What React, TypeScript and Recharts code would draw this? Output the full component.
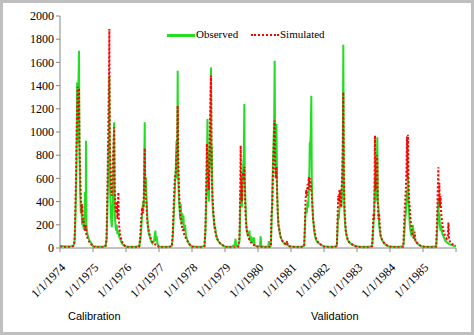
import React from 'react';
import { LineChart, Line, XAxis, YAxis } from 'recharts';

// one row per year, times are fractions of the year
const years = [1974, 1975, 1976, 1977, 1978, 1979, 1980, 1981, 1982, 1983, 1984, 1985];

const sampleTimes = [
  [0, 0.1, 0.2, 0.3, 0.4, 0.44, 0.46, 0.48, 0.5, 0.52, 0.535, 0.55, 0.576, 0.59, 0.61, 0.63, 0.65, 0.67, 0.69, 0.71, 0.73, 0.76, 0.78, 0.788, 0.8, 0.83, 0.86, 0.9, 0.95],
  [0, 0.1, 0.2, 0.3, 0.38, 0.41, 0.43, 0.45, 0.47, 0.485, 0.495, 0.51, 0.53, 0.55, 0.57, 0.59, 0.61, 0.64, 0.66, 0.68, 0.7, 0.72, 0.74, 0.77, 0.79, 0.82, 0.86, 0.9, 0.95],
  [0, 0.1, 0.2, 0.3, 0.4, 0.43, 0.46, 0.49, 0.52, 0.54, 0.567, 0.58, 0.6, 0.62, 0.64, 0.66, 0.69, 0.72, 0.76, 0.8, 0.85, 0.89, 0.91, 0.93, 0.96],
  [0, 0.1, 0.2, 0.3, 0.39, 0.42, 0.45, 0.48, 0.51, 0.53, 0.55, 0.566, 0.58, 0.6, 0.62, 0.64, 0.66, 0.68, 0.7, 0.72, 0.74, 0.76, 0.79, 0.82, 0.86, 0.9, 0.95],
  [0, 0.1, 0.2, 0.3, 0.38, 0.41, 0.43, 0.45, 0.47, 0.49, 0.51, 0.53, 0.55, 0.576, 0.59, 0.6, 0.62, 0.64, 0.66, 0.68, 0.7, 0.73, 0.76, 0.8, 0.85, 0.9, 0.95],
  [0, 0.1, 0.2, 0.3, 0.32, 0.34, 0.4, 0.44, 0.46, 0.475, 0.49, 0.51, 0.53, 0.55, 0.57, 0.586, 0.6, 0.62, 0.64, 0.66, 0.7, 0.74, 0.76, 0.8, 0.83, 0.88, 0.9, 0.95],
  [0, 0.06, 0.08, 0.1, 0.2, 0.31, 0.33, 0.35, 0.39, 0.41, 0.43, 0.45, 0.47, 0.49, 0.505, 0.52, 0.54, 0.56, 0.58, 0.6, 0.62, 0.65, 0.68, 0.72, 0.76, 0.8, 0.86, 0.88, 0.9, 0.95],
  [0, 0.1, 0.2, 0.3, 0.4, 0.42, 0.44, 0.46, 0.48, 0.5, 0.52, 0.54, 0.56, 0.57, 0.58, 0.6, 0.616, 0.63, 0.65, 0.67, 0.7, 0.73, 0.76, 0.8, 0.85, 0.9, 0.95],
  [0, 0.1, 0.2, 0.3, 0.39, 0.41, 0.43, 0.45, 0.47, 0.49, 0.51, 0.53, 0.55, 0.57, 0.585, 0.6, 0.62, 0.64, 0.66, 0.69, 0.72, 0.76, 0.8, 0.86, 0.92, 0.96],
  [0, 0.1, 0.2, 0.3, 0.4, 0.46, 0.48, 0.5, 0.52, 0.545, 0.56, 0.58, 0.6, 0.616, 0.63, 0.65, 0.67, 0.69, 0.72, 0.76, 0.8, 0.86, 0.92, 0.96],
  [0, 0.1, 0.2, 0.3, 0.4, 0.42, 0.44, 0.46, 0.48, 0.5, 0.515, 0.53, 0.545, 0.56, 0.58, 0.6, 0.62, 0.64, 0.66, 0.69, 0.71, 0.73, 0.75, 0.77, 0.8, 0.86, 0.92, 0.96],
  [0, 0.1, 0.2, 0.3, 0.4, 0.42, 0.44, 0.465, 0.48, 0.495, 0.51, 0.53, 0.55, 0.57, 0.59, 0.62, 0.65, 0.68, 0.72, 0.75, 0.77, 0.79, 0.83, 0.88, 0.93, 0.99],
];

const observed = [
  [18, 15, 12, 12, 20, 40, 180, 420, 700, 1428, 900, 1250, 1701, 800, 500, 300, 350, 200, 250, 180, 160, 483, 300, 925, 200, 120, 90, 60, 40],
  [15, 12, 10, 10, 20, 60, 250, 500, 900, 700, 1480, 600, 400, 250, 180, 300, 500, 1083, 300, 200, 150, 200, 120, 150, 100, 80, 50, 30, 20],
  [12, 10, 10, 10, 15, 60, 150, 300, 400, 350, 1083, 500, 610, 450, 300, 200, 120, 100, 60, 40, 60, 150, 60, 100, 30],
  [12, 10, 10, 10, 20, 100, 300, 500, 700, 925, 600, 1529, 700, 450, 350, 250, 380, 200, 300, 250, 280, 150, 200, 100, 70, 40, 20],
  [15, 12, 10, 10, 20, 150, 400, 700, 1112, 500, 400, 700, 900, 1557, 700, 882, 400, 300, 250, 180, 180, 120, 80, 60, 40, 30, 20],
  [12, 10, 10, 30, 80, 15, 15, 60, 300, 500, 400, 350, 500, 700, 800, 1241, 600, 400, 250, 150, 100, 150, 60, 100, 40, 90, 25, 15],
  [15, 15, 100, 15, 10, 10, 60, 10, 20, 200, 400, 700, 900, 1100, 1615, 800, 600, 1069, 500, 300, 200, 150, 100, 70, 50, 40, 30, 30, 25, 15],
  [12, 10, 10, 10, 20, 150, 300, 350, 300, 400, 350, 500, 700, 911, 850, 1000, 1313, 600, 350, 250, 150, 100, 70, 50, 40, 30, 20],
  [15, 12, 10, 10, 20, 150, 300, 250, 350, 500, 400, 350, 500, 800, 1753, 600, 300, 200, 150, 100, 70, 50, 40, 30, 20, 15],
  [12, 10, 10, 10, 10, 20, 100, 200, 300, 600, 400, 500, 700, 954, 400, 350, 200, 150, 100, 70, 50, 30, 20, 15],
  [12, 10, 10, 10, 15, 50, 150, 250, 300, 400, 500, 450, 620, 400, 300, 200, 150, 120, 100, 200, 150, 100, 80, 60, 50, 30, 20, 15],
  [12, 10, 10, 10, 15, 100, 200, 430, 250, 300, 200, 150, 200, 150, 120, 100, 80, 60, 50, 40, 40, 35, 30, 25, 20, 15],
];

const simulated = [
  [12, 10, 8, 8, 15, 60, 250, 550, 900, 1200, 1390, 1100, 1380, 900, 700, 450, 300, 380, 220, 260, 180, 150, 200, 130, 120, 90, 70, 45, 30],
  [10, 8, 7, 8, 15, 80, 400, 800, 1200, 1500, 1888, 900, 700, 500, 450, 600, 800, 1040, 500, 350, 300, 400, 250, 480, 200, 120, 70, 45, 25],
  [8, 7, 6, 6, 12, 80, 250, 350, 300, 450, 860, 600, 420, 380, 250, 200, 150, 110, 70, 50, 35, 30, 30, 25, 20],
  [8, 7, 6, 7, 15, 150, 400, 600, 650, 800, 900, 1227, 800, 550, 400, 300, 250, 220, 180, 150, 170, 120, 100, 80, 60, 40, 25],
  [10, 8, 7, 7, 15, 200, 500, 900, 700, 600, 500, 800, 1100, 1486, 900, 600, 450, 350, 250, 200, 150, 110, 80, 60, 40, 30, 20],
  [8, 7, 6, 6, 8, 8, 10, 100, 500, 882, 550, 400, 600, 650, 600, 700, 500, 300, 200, 150, 100, 70, 60, 45, 35, 25, 20, 15],
  [10, 8, 8, 8, 7, 7, 8, 8, 15, 300, 350, 600, 800, 1000, 1100, 700, 600, 700, 450, 300, 200, 150, 100, 70, 50, 40, 30, 60, 20, 15],
  [10, 8, 7, 7, 15, 200, 400, 500, 450, 550, 500, 612, 550, 500, 600, 550, 500, 450, 350, 250, 180, 120, 80, 60, 40, 30, 20],
  [10, 8, 7, 7, 15, 250, 450, 400, 500, 450, 350, 500, 600, 900, 1342, 700, 350, 250, 150, 100, 70, 50, 40, 30, 20, 15],
  [10, 8, 7, 7, 7, 15, 150, 300, 250, 968, 500, 700, 800, 750, 400, 250, 300, 200, 100, 70, 50, 30, 20, 15],
  [10, 8, 7, 7, 10, 150, 300, 400, 500, 700, 960, 600, 977, 600, 400, 350, 250, 200, 150, 100, 90, 80, 140, 60, 50, 30, 20, 15],
  [10, 8, 7, 7, 10, 200, 400, 695, 400, 560, 350, 450, 300, 250, 200, 150, 120, 100, 80, 100, 220, 70, 50, 35, 25, 20],
];

const xTicks = [1974, 1975, 1976, 1977, 1978, 1979, 1980, 1981, 1982, 1983, 1984, 1985, 1986];
const yTicks = [0, 200, 400, 600, 800, 1000, 1200, 1400, 1600, 1800, 2000];

const GREEN = '#22dd22';
const RED = '#ff0000';
const SERIF = '"Liberation Serif", "Times New Roman", serif';

const rows = years.flatMap((yr, i) =>
  sampleTimes[i].map((f, j) => ({ t: yr + f, obs: observed[i][j], sim: simulated[i][j] }))
);

function YearTick({ x, y, payload }: any) {
  if (payload.value >= 1986) return null;
  const px = x;
  const py = y + 8;
  return (
    <text
      x={px}
      y={py}
      textAnchor="end"
      dominantBaseline="hanging"
      transform={`rotate(-45, ${px}, ${py})`}
      fontSize={12}
      fontFamily={SERIF}
      fill="#000"
    >
      {`1/1/${payload.value}`}
    </text>
  );
}

export default function App() {
  return (
    <div
      style={{
        position: 'absolute', left: 0, top: 0, width: 474, height: 335,
        boxSizing: 'border-box', border: '3px solid #bfbfbf', background: '#fff',
      }}
    >
      <LineChart width={468} height={329} data={rows} margin={{ top: 13, right: 15, left: 0, bottom: 4 }}>
        <XAxis
          dataKey="t"
          type="number"
          domain={[1974, 1986]}
          ticks={xTicks}
          tick={<YearTick />}
          height={80}
          stroke="#868686"
          tickSize={4}
          interval={0}
        />
        <YAxis
          type="number"
          domain={[0, 2000]}
          ticks={yTicks}
          width={57}
          stroke="#868686"
          tickSize={4}
          interval={0}
          tick={{ fontSize: 12, fontFamily: SERIF, fill: '#000' }}
        />
        <Line type="linear" dataKey="obs" stroke={GREEN} strokeWidth={2} dot={false} isAnimationActive={false} />
        <Line type="linear" dataKey="sim" stroke={RED} strokeWidth={2} strokeDasharray="2 2" dot={false} isAnimationActive={false} />
      </LineChart>

      {/* legend */}
      <div style={{ position: 'absolute', left: 164, top: 31, width: 28, height: 0, borderTop: `3px solid ${GREEN}` }} />
      <div style={{ position: 'absolute', left: 193, top: 25, fontFamily: SERIF, fontSize: 11 }}>Observed</div>
      <div style={{ position: 'absolute', left: 248, top: 31, width: 28, height: 0, borderTop: `2px dotted ${RED}` }} />
      <div style={{ position: 'absolute', left: 277, top: 25, fontFamily: SERIF, fontSize: 11 }}>Simulated</div>

      <div style={{ position: 'absolute', left: 65, top: 307, fontFamily: '"Liberation Sans", Arial, sans-serif', fontSize: 11 }}>Calibration</div>
      <div style={{ position: 'absolute', left: 308, top: 307, fontFamily: '"Liberation Sans", Arial, sans-serif', fontSize: 11 }}>Validation</div>
    </div>
  );
}
